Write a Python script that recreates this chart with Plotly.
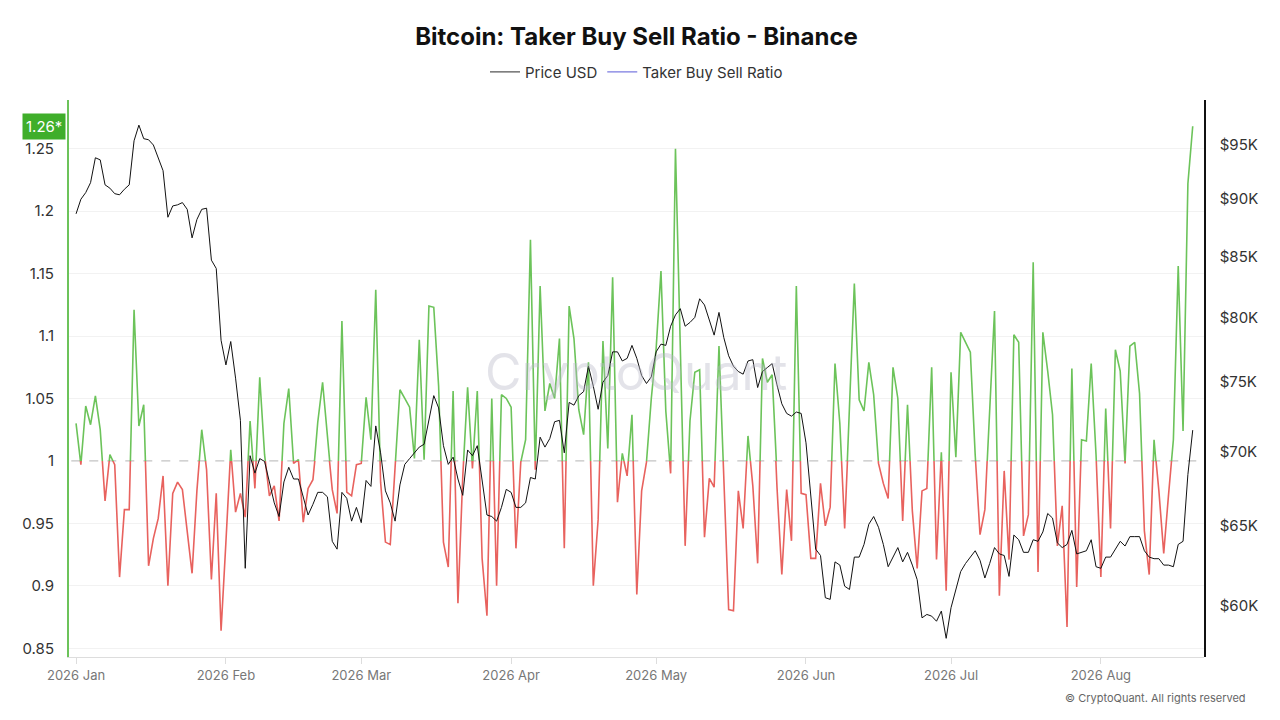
"""Bitcoin taker buy/sell ratio vs price, Binance (CryptoQuant-style chart)."""

import pandas as pd
import plotly.graph_objects as go

START_DATE = "2026-01-01"

# daily taker buy/sell ratio (Jan 1 .. Aug 20)
taker_ratio = [
    1.030, 0.997, 1.044, 1.029, 1.052, 1.025, 0.968, 1.005, 0.997, 0.907,
    0.961, 0.961, 1.121, 1.028, 1.045, 0.916, 0.938, 0.954, 0.988, 0.900,
    0.974, 0.983, 0.977, 0.941, 0.910, 0.976, 1.025, 0.993, 0.905, 0.974,
    0.864, 0.935, 1.009, 0.959, 0.974, 0.955, 1.032, 0.978, 1.067, 1.005,
    0.972, 0.980, 0.952, 1.030, 1.058, 0.998, 1.001, 0.951, 0.978, 0.985,
    1.031, 1.063, 1.017, 0.977, 0.958, 1.112, 0.975, 0.972, 0.997, 0.998,
    1.051, 1.017, 1.137, 0.983, 0.935, 0.933, 0.995, 1.057, 1.050, 1.043,
    1.002, 1.097, 1.001, 1.124, 1.123, 1.060, 0.935, 0.915, 1.056, 0.886,
    0.988, 1.059, 0.994, 1.056, 0.922, 0.876, 1.050, 0.900, 1.053, 1.050,
    1.043, 0.930, 0.999, 1.017, 1.177, 0.993, 1.140, 1.040, 1.062, 1.050,
    1.098, 0.930, 1.124, 1.098, 1.041, 1.021, 1.079, 0.900, 0.953, 1.096,
    1.010, 1.147, 0.967, 1.006, 0.988, 1.037, 0.893, 0.976, 0.999, 1.050,
    1.090, 1.152, 1.040, 0.990, 1.250, 1.080, 0.932, 1.032, 1.071, 1.073,
    0.939, 0.986, 0.979, 1.092, 0.990, 0.881, 0.880, 0.976, 0.946, 1.020,
    0.980, 0.918, 1.082, 1.063, 1.069, 0.979, 0.909, 0.977, 0.936, 1.140,
    0.974, 0.973, 0.922, 0.922, 0.982, 0.948, 0.963, 1.078, 1.030, 0.946,
    1.040, 1.142, 1.049, 1.040, 1.079, 1.053, 0.998, 0.982, 0.970, 1.075,
    1.050, 0.952, 1.045, 0.960, 0.914, 0.976, 0.978, 1.075, 0.921, 1.007,
    0.896, 1.071, 1.003, 1.103, 1.095, 1.087, 1.005, 0.941, 0.961, 1.043,
    1.120, 0.892, 0.992, 0.921, 1.101, 1.095, 0.940, 0.957, 1.159, 0.911,
    1.103, 1.072, 1.037, 0.932, 0.964, 0.867, 1.074, 0.899, 1.017, 1.016,
    1.078, 1.005, 0.907, 1.042, 0.946, 1.089, 1.072, 0.998, 1.092, 1.095,
    1.054, 0.944, 0.909, 1.017, 0.976, 0.926, 0.973, 1.017, 1.156, 1.024,
    1.222, 1.268,
]

# daily BTC price in thousands of USD
price_k = [
    88.7, 90.0, 90.6, 91.5, 93.8, 93.6, 91.3, 91.0, 90.5, 90.4,
    90.9, 91.3, 95.4, 96.9, 95.6, 95.5, 95.0, 93.7, 92.6, 88.4,
    89.4, 89.5, 89.7, 89.1, 86.6, 88.2, 89.1, 89.2, 84.7, 84.0,
    78.2, 76.3, 78.1, 75.3, 72.2, 62.3, 69.7, 68.5, 69.5, 69.3,
    67.9, 66.5, 65.6, 67.9, 68.9, 68.1, 68.1, 66.8, 65.7, 66.4,
    67.2, 67.2, 66.9, 64.0, 63.5, 67.2, 66.8, 65.3, 66.2, 65.2,
    68.0, 67.6, 71.8, 69.9, 67.3, 66.5, 65.3, 67.7, 69.1, 69.5,
    69.9, 70.3, 70.5, 72.2, 74.0, 73.1, 70.4, 69.1, 69.6, 68.1,
    67.0, 70.1, 69.7, 70.4, 68.1, 65.7, 65.6, 65.3, 66.2, 67.4,
    67.2, 66.2, 66.2, 66.5, 68.2, 68.1, 71.0, 70.3, 70.9, 72.1,
    72.2, 69.9, 73.5, 73.3, 74.0, 74.3, 76.2, 74.7, 73.0, 75.0,
    75.5, 77.3, 77.3, 76.6, 76.8, 77.8, 76.8, 75.5, 74.9, 75.4,
    77.3, 77.9, 77.8, 79.3, 80.2, 80.7, 79.3, 79.6, 80.0, 81.5,
    81.0, 79.8, 78.6, 80.4, 78.4, 77.0, 76.2, 75.8, 75.6, 76.6,
    76.7, 74.6, 75.8, 76.1, 76.4, 74.8, 73.4, 72.7, 72.5, 72.8,
    72.7, 70.6, 66.8, 63.5, 63.1, 60.5, 60.4, 62.7, 62.5, 61.2,
    61.0, 63.0, 63.0, 63.8, 65.1, 65.6, 64.9, 63.8, 62.4, 63.0,
    63.6, 62.7, 63.3, 62.5, 61.6, 59.3, 59.5, 59.4, 59.1, 59.7,
    58.1, 59.9, 61.0, 62.1, 62.6, 63.0, 63.4, 62.8, 61.7, 62.6,
    63.6, 63.2, 63.1, 61.8, 64.4, 64.1, 63.3, 63.3, 64.1, 64.0,
    64.6, 65.8, 65.5, 63.9, 63.6, 63.8, 64.7, 63.2, 63.3, 63.4,
    64.1, 62.4, 62.3, 63.0, 63.0, 63.5, 64.0, 63.7, 64.3, 64.3,
    64.3, 63.4, 63.0, 62.9, 62.9, 62.5, 62.5, 62.4, 63.8, 64.0,
    68.4, 71.5,
]

ratio_ticks = [0.85, 0.9, 0.95, 1, 1.05, 1.1, 1.15, 1.2, 1.25]
price_ticks = [60000, 65000, 70000, 75000, 80000, 85000, 90000, 95000]
price_tick_text = ["$60K", "$65K", "$70K", "$75K", "$80K", "$85K", "$90K", "$95K"]

GREEN = "#6cc35a"
RED = "#e8625e"
FONT = "Inter"

dates = pd.date_range(START_DATE, periods=len(taker_ratio), freq="D")
price = [p * 1000 for p in price_k]

# the ratio axis is split at 1.0 into two stacked axes so the line gets
# clipped there: green above, red below
RATIO_LO, RATIO_HI = 0.843, 1.289
split = (1 - RATIO_LO) / (RATIO_HI - RATIO_LO)

fig = go.Figure()
fig.add_trace(go.Scatter(x=dates, y=taker_ratio, mode="lines", yaxis="y",
                         line=dict(color=RED, width=1.6), showlegend=False, hoverinfo="skip"))
fig.add_trace(go.Scatter(x=dates, y=taker_ratio, mode="lines", yaxis="y2",
                         line=dict(color=GREEN, width=1.6), showlegend=False,
                         name="Taker Buy Sell Ratio"))
fig.add_trace(go.Scatter(x=dates, y=price, mode="lines", yaxis="y3",
                         line=dict(color="#111111", width=1), showlegend=False, name="Price USD"))
# legend entries only
fig.add_trace(go.Scatter(x=[None], y=[None], mode="lines", yaxis="y3", name="Price USD",
                         line=dict(color="#555555", width=1.2)))
fig.add_trace(go.Scatter(x=[None], y=[None], mode="lines", yaxis="y3", name="Taker Buy Sell Ratio",
                         line=dict(color="#7b7be0", width=1.2)))

# the page body adds an 8px offset, so margins are trimmed to compensate
grid = "#f2f2f2"
tick_font = dict(family=FONT, size=15, color="#333333")
fig.update_layout(
    width=1280, height=720,
    margin=dict(l=61, r=84, t=92, b=71),
    paper_bgcolor="white", plot_bgcolor="rgba(0,0,0,0)",
    font=dict(family=FONT, color="#222222"),
    title=dict(text="<b>Bitcoin: Taker Buy Sell Ratio - Binance</b>", x=0.5, xanchor="center",
               xref="paper", y=1 - 29 / 720, yanchor="middle",
               font=dict(family=FONT, size=24, color="#111111")),
    legend=dict(orientation="h", x=0.5, xanchor="center", y=1.05, yanchor="middle",
                font=dict(family=FONT, size=15, color="#333333"), itemwidth=30,
                bgcolor="rgba(0,0,0,0)"),
    xaxis=dict(
        type="date", anchor="y",
        range=["2025-12-30 13:00", "2026-08-22 08:00"],
        tick0="2026-01-01", dtick="M1", tickformat="%Y %b",
        showgrid=False, showline=True, linecolor="#dddddd", linewidth=1,
        ticks="outside", ticklen=6, tickcolor="#dddddd",
        tickfont=dict(family=FONT, size=13, color="#777777"),
    ),
    yaxis=dict(
        domain=[0, split], range=[RATIO_LO, 1.0], anchor="x", side="left",
        tickvals=[0.85, 0.9, 0.95, 1], ticktext=["0.85", "0.9", "0.95", "1"],
        showgrid=True, gridcolor=grid, zeroline=False,
        showline=True, linecolor=GREEN, linewidth=2, ticks="", ticklabelstandoff=10,
        tickfont=tick_font,
    ),
    yaxis2=dict(
        domain=[split, 1], range=[1.0, RATIO_HI], anchor="x", side="left",
        tickvals=ratio_ticks[4:], ticktext=["1.05", "1.1", "1.15", "1.2", "1.25"],
        showgrid=True, gridcolor=grid, zeroline=False,
        showline=True, linecolor=GREEN, linewidth=2, ticks="", ticklabelstandoff=10,
        tickfont=tick_font,
    ),
    yaxis3=dict(
        domain=[0, 1], type="log", range=[4.7561, 4.9972], anchor="x", side="right",
        tickvals=price_ticks, ticktext=price_tick_text,
        showgrid=False, zeroline=False,
        showline=True, linecolor="#111111", linewidth=1.5, ticks="", ticklabelstandoff=11,
        tickfont=tick_font,
    ),
)

# dashed reference line at ratio = 1 (the boundary between the two ratio axes)
fig.add_shape(type="line", xref="paper", x0=0.002, x1=0.998, yref="paper", y0=split, y1=split,
              layer="below", line=dict(color="#c4c4c4", width=1.2, dash="dash"))

# last value badges
fig.add_annotation(xref="paper", x=0, xanchor="right", xshift=-3, yref="y2", y=taker_ratio[-1],
                   text="1.26*", showarrow=False, bgcolor="#3fae2a", borderpad=3,
                   font=dict(family=FONT, size=15, color="white"))
fig.add_annotation(xref="paper", x=1, xanchor="left", xshift=4, yref="y3", y=price[-1],
                   text="$71.5K", showarrow=False, bgcolor="#111111", borderpad=3,
                   font=dict(family=FONT, size=15, color="white"))

# watermark and footer
fig.add_annotation(xref="paper", yref="paper", x=0.4996, y=0.512, text="CryptoQuant", showarrow=False,
                   font=dict(family=FONT, size=50, color="rgba(185,185,200,0.4)"))
fig.add_annotation(xref="paper", yref="paper", x=1.0388, y=-0.0736, xanchor="right", yanchor="middle",
                   text="© CryptoQuant. All rights reserved", showarrow=False,
                   font=dict(family=FONT, size=11, color="#666666"))

fig.write_html("out.html")
